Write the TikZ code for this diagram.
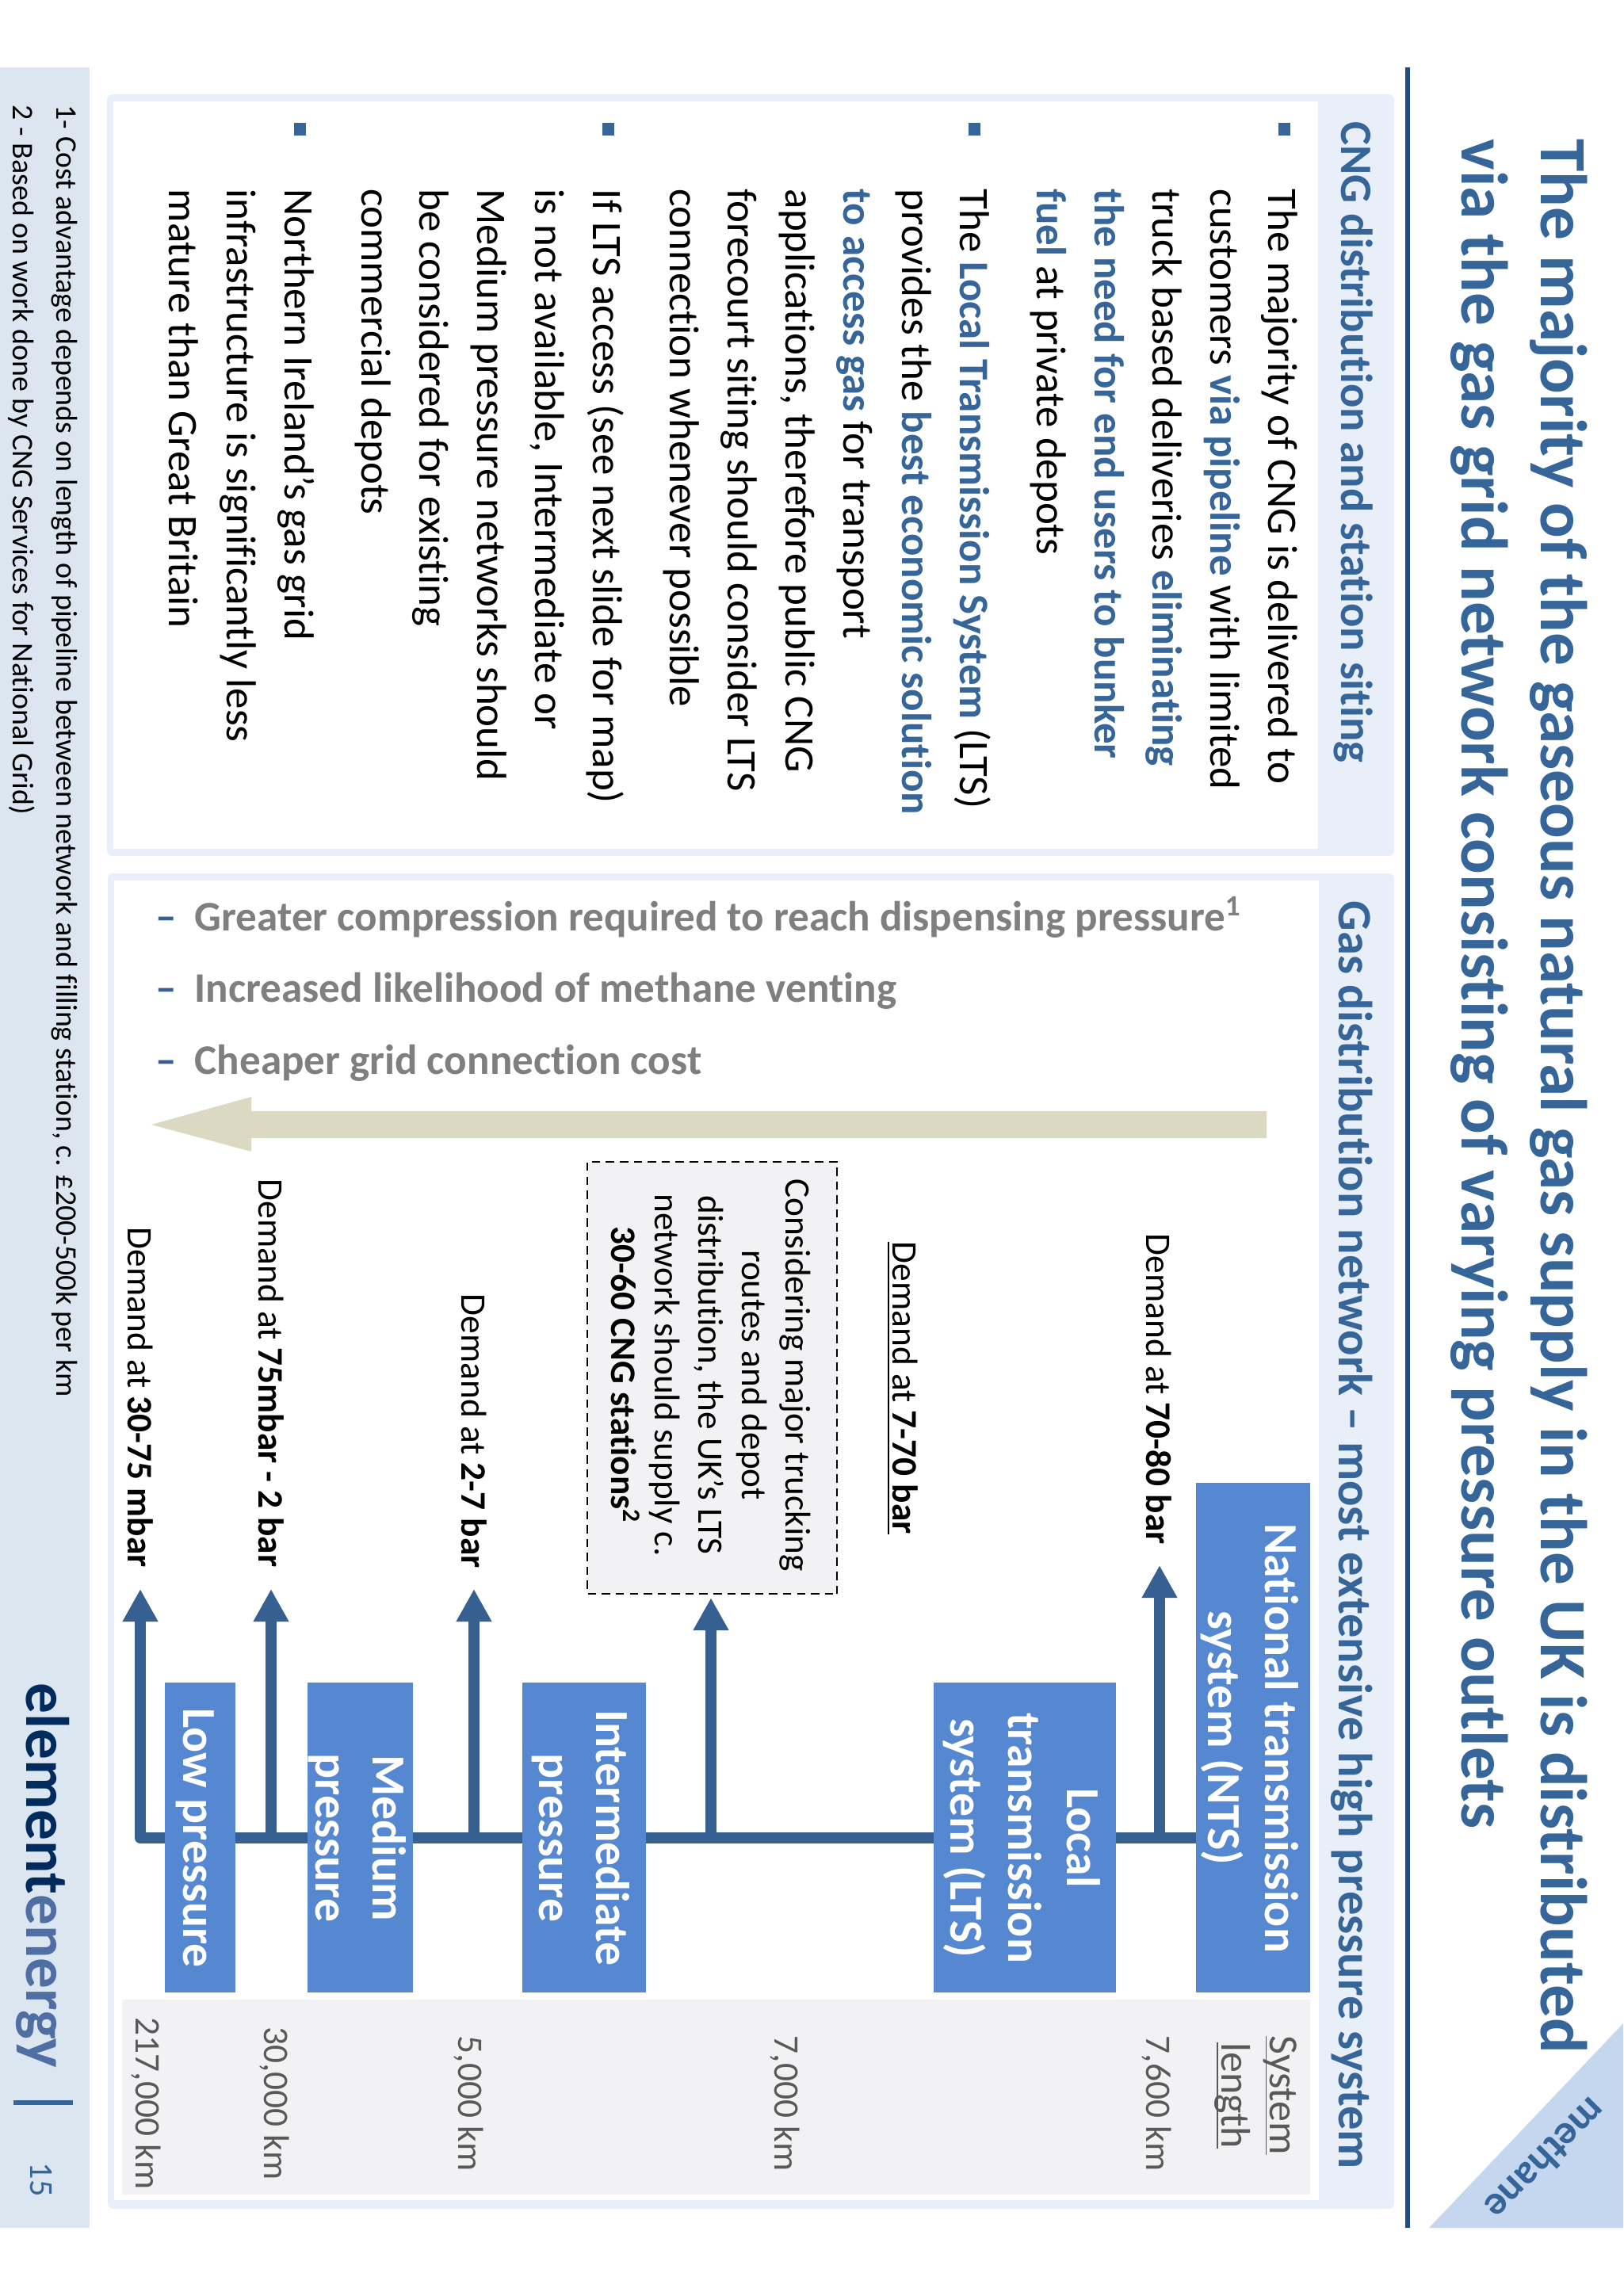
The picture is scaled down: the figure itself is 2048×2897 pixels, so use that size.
\documentclass[tikz,border=0pt]{standalone}
\usepackage{fontspec}
\setmainfont[Ligatures=NoCommon]{Carlito}
\usetikzlibrary{arrows.meta}

\definecolor{titleblue}{HTML}{366599}
\definecolor{ruleblue}{HTML}{1F4E85}
\definecolor{panelblue}{HTML}{E9EFF9}
\definecolor{barblue}{HTML}{DCE6F1}
\definecolor{cornerblue}{HTML}{C5D7EE}
\definecolor{boxblue}{HTML}{5588D0}
\definecolor{pipeblue}{HTML}{376092}
\definecolor{greyband}{HTML}{F2F1F3}
\definecolor{greytext}{HTML}{595959}
\definecolor{midgrey}{HTML}{7F7F7F}
\definecolor{sand}{HTML}{DBD9C2}
\definecolor{logodark}{HTML}{002B5C}
\definecolor{logolight}{HTML}{4F6EA3}

\newcommand{\fsz}[2]{\fontsize{#1pt}{#2pt}\selectfont}
\newcommand{\hl}[1]{{\bfseries\color{titleblue}#1}}
\newcommand{\ulin}[1]{\underline{\smash{#1}}}

\begin{document}
\begin{tikzpicture}[
  x=0.01cm,
  y=-0.01cm,
  rot/.style={
    rotate=-90,
    anchor=base west,
    inner sep=0pt,
    align=left
  },
  rotmid/.style={
    rotate=-90,
    anchor=base,
    inner sep=0pt,
    align=center
  },
  title/.style={rot, font=\fsz{23.7}{28.4}\bfseries, text=titleblue},
  head/.style={rot, font=\fsz{17.2}{20}\bfseries, text=titleblue},
  body/.style={rot, font=\fsz{15.06}{20.77}},
  demand/.style={rot, font=\fsz{12.9}{16}},
  lengthtext/.style={rotmid, font=\fsz{12.9}{17.4}, text=greytext},
  duct/.style={rotate=-90, fill=boxblue, inner sep=0pt, minimum height=#1},
  ductlabel/.style={rotmid, font=\fsz{17}{20.5}\bfseries, text=white},
  grey/.style={anchor=base west, inner sep=0pt, font=\fsz{15.1}{18}\bfseries, text=midgrey},
  dashmark/.style={anchor=base west, inner sep=0pt, font=\fsz{15.1}{18}\bfseries, text=pipeblue},
  bullet/.style={fill=titleblue, inner sep=0pt, minimum size=0.15cm},
  pipe/.style={draw=pipeblue, line width=0.14cm, line join=round,
    -{Triangle[length=0.41cm,width=0.42cm]}}
]
\useasboundingbox (0,0) rectangle (2048,2897);

% Footer bar, title rule and corner.
\fill[barblue] (0,85) rectangle (113,2811);
\fill[ruleblue] (1773,85) rectangle (1779,2811);
\fill[cornerblue] (1803,2811) -- (2048,2811) -- (2048,2553) -- cycle;

% Panels.
\fill[panelblue, rounded corners=2pt] (135,119) rectangle (1759,1080);
\fill[white] (143,128) rectangle (1663,1071);
\fill[panelblue, rounded corners=2pt] (136,1102) rectangle (1759,2787);
\fill[white] (144,1111) rectangle (1664,2776);
\fill[greyband] (154,2523) rectangle (1653,2769);

% Title and headers.
\node[title] (titletop) at (1944,175) {The majority of the gaseous natural gas supply in the UK is distributed};
\node[title] (titlelow) at (1844,175) {via the gas grid network consisting of varying pressure outlets};
\node[rotate=-135, inner sep=0pt, font=\fsz{14.8}{18}\bfseries, text=titleblue] (corner) at (1951,2725) {methane};
\node[head, font=\fsz{16.1}{20}\bfseries] (cnghead) at (1692,153) {CNG distribution and station siting};
\node[head] (gashead) at (1689,1136) {Gas distribution network – most extensive high pressure system};

% Bullets in the left panel.
\node[bullet] (bulleta) at (1620,163) {};
\node[bullet] (bulletb) at (1229,163) {};
\node[bullet] (bulletc) at (767,163) {};
\node[bullet] (bulletd) at (378,163) {};
\node[body] (bodytext) at (213,238) {The majority of CNG is delivered to\\
customers \hl{via pipeline} with limited\\
truck based deliveries \hl{eliminating}\\
\hl{the need for end users to bunker}\\
\hl{fuel} at private depots\\[6.9pt]
The \hl{Local Transmission System} (LTS)\\
provides the \hl{best economic solution}\\
\hl{to access gas} for transport\\
applications, therefore public CNG\\
forecourt siting should consider LTS\\
connection whenever possible\\[6.9pt]
If LTS access (see next slide for map)\\
is not available, Intermediate or\\
Medium pressure networks should\\
be considered for existing\\
commercial depots\\[6.9pt]
Northern Ireland’s gas grid\\
infrastructure is significantly less\\
mature than Great Britain};

% Trade-offs and their arrow.
\node[dashmark] (dasha) at (196,1174) {–};
\node[dashmark] (dashb) at (196,1264) {–};
\node[dashmark] (dashc) at (196,1355) {–};
\node[grey] (gradea) at (245,1174) {Greater compression required to reach dispensing pressure\textsuperscript{1}};
\node[grey] (gradeb) at (245,1264) {Increased likelihood of methane venting};
\node[grey] (gradec) at (245,1355) {Cheaper grid connection cost};
\fill[sand] (1598,1402) -- (317,1402) -- (317,1384) -- (191,1419) -- (317,1453) -- (317,1436) -- (1598,1436) -- cycle;

% Pipeline taps.
\coordinate (joinlow) at (177,2319);
\coordinate (tipa) at (177,2005);
\coordinate (tapb) at (342,2319);
\coordinate (tipb) at (342,2005);
\coordinate (tapc) at (598,2319);
\coordinate (tipc) at (598,2005);
\coordinate (tapd) at (897,2319);
\coordinate (tipd) at (897,2016);
\coordinate (tape) at (1463,2319);
\coordinate (tipe) at (1463,1975);
\coordinate (pipeend) at (1560,2319);
\draw[pipe] (pipeend) -- (joinlow) -- (tipa);
\draw[pipe] (tapb) -- (tipb);
\draw[pipe] (tapc) -- (tipc);
\draw[pipe] (tapd) -- (tipd);
\draw[pipe] (tape) -- (tipe);

% Pressure tiers.
\node[duct=1.44cm, minimum width=6.43cm] (nts) at (1581,2192.5) {};
\node[duct=2.30cm, minimum width=3.91cm] (lts) at (1293,2318.5) {};
\node[duct=1.56cm, minimum width=3.91cm] (ip) at (737,2318.5) {};
\node[duct=1.33cm, minimum width=3.91cm] (mp) at (454.5,2318.5) {};
\node[duct=0.89cm, minimum width=3.91cm] (lp) at (252.5,2318.5) {};
\node[ductlabel] (ntstext) at (1524,2193) {National transmission\\system (NTS)};
\node[ductlabel, font=\fsz{17}{21}\bfseries] (ltstext) at (1199,2319) {Local\\transmission\\system (LTS)};
\node[ductlabel] (iptext) at (680,2319) {Intermediate\\pressure};
\node[ductlabel] (mptext) at (398,2319) {Medium\\pressure};
\node[ductlabel] (lptext) at (231,2319) {Low pressure};

% Demand labels.
\node[demand] (demande) at (1446,1556) {Demand at \textbf{70-80 bar}};
\node[demand] (demandd) at (1126,1566) {\ulin{Demand at \textbf{7-70 bar}}};
\node[demand] (demandc) at (582,1632) {Demand at \textbf{2-7 bar}};
\node[demand] (demandb) at (326,1487) {Demand at \textbf{75mbar - 2 bar}};
\node[demand] (demanda) at (161,1548) {Demand at \textbf{30-75 mbar}};
\node[rotate=-90, draw, densely dashed, fill=greyband, inner sep=0pt, minimum width=5.45cm, minimum height=3.15cm] (stationbox) at (898.5,1738.5) {};
\node[rotmid, font=\fsz{12.85}{15.7}] (stationtext) at (771,1735) {Considering major trucking\\routes and depot\\distribution, the UK’s LTS\\network should supply c.\\\textbf{30-60 CNG stations\textsuperscript{2}}};

% System lengths.
\node[lengthtext, font=\fsz{14.8}{17.4}] (lenhead) at (1541,2644) {\ulin{System}\\\ulin{length}};
\node[lengthtext] (lene) at (1446,2654) {7,600 km};
\node[lengthtext] (lend) at (977,2654) {7,000 km};
\node[lengthtext] (lenc) at (578,2654) {5,000 km};
\node[lengthtext] (lenb) at (333,2654) {30,000 km};
\node[lengthtext] (lena) at (171,2654) {217,000 km};

% Footer.
\node[rot, font=\fsz{10.77}{15.6}] (notes) at (17,132) {1- Cost advantage depends on length of pipeline between network and filling station, c. £200-500k per km\\2 - Based on work done by CNG Services for National Grid)};
\node[rot, font=\fsz{22}{26}\bfseries] (logo) at (33,2123) {\textcolor{logodark}{element}\textcolor{logolight}{energy}};
\fill[titleblue] (17,2650) rectangle (92,2656);
\node[rot, font=\fsz{12}{14}, text=titleblue] (pagenum) at (38,2728) {15};
\end{tikzpicture}
\end{document}
